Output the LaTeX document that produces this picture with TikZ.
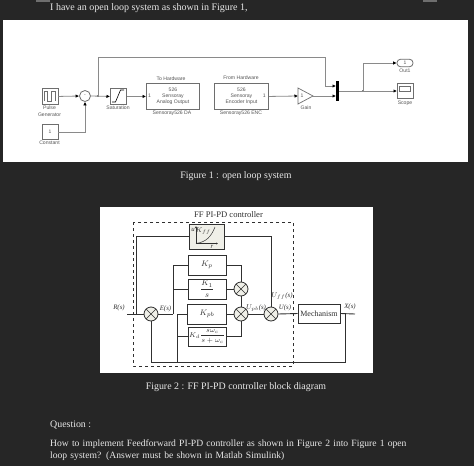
\documentclass[tikz,border=0pt]{standalone}
\usepackage{fontspec}
\setmainfont{Liberation Serif}
\setsansfont{Liberation Sans}
\usepackage{xcolor}
\definecolor{pageDark}{HTML}{262626}
\definecolor{pageText}{HTML}{E8E8E8}
\definecolor{simWire}{HTML}{8A8A8A}
\definecolor{simBlock}{HTML}{6E6E6E}
\definecolor{simText}{HTML}{555555}
\definecolor{ffInk}{HTML}{303030}
\definecolor{ffFill}{HTML}{EFEFE8}
\usetikzlibrary{arrows.meta}
\tikzset{
  pagetext/.style={text=pageText, font=\fontsize{9.9}{11}\selectfont, inner sep=0pt},
  simblock/.style={draw=simBlock, line width=0.9pt, fill=white, inner sep=0pt, anchor=north west},
  simlabel/.style={text=simText, font=\sffamily\fontsize{5.1}{6.2}\selectfont, align=center, inner sep=0pt},
  simwire/.style={draw=simWire, line width=0.8pt, -{Latex[black,length=3.5pt,width=3.5pt]}},
  simline/.style={draw=simWire, line width=0.8pt},
  simdot/.style={circle, fill=black, inner sep=0pt, minimum size=1.6pt},
  ffblock/.style={draw=ffInk, line width=0.9pt, fill=white, inner sep=0pt, text=ffInk, font=\fontsize{8}{9}\selectfont},
  ffsum/.style={circle, draw=ffInk, line width=0.8pt, fill=ffFill, minimum size=14pt, inner sep=0pt,
    path picture={
      \draw[ffInk, line width=0.6pt] (path picture bounding box.north west) -- (path picture bounding box.south east);
      \draw[ffInk, line width=0.6pt] (path picture bounding box.north east) -- (path picture bounding box.south west);
    }},
  ffwire/.style={draw=ffInk, line width=0.9pt},
  fflabel/.style={text=ffInk, font=\fontsize{6.8}{8}\selectfont\itshape, inner sep=0pt},
}
\begin{document}
\begin{tikzpicture}[x=1pt, y=-1pt]
  \fill[pageDark] (0,0) rectangle (474,466);
  \useasboundingbox (0,0) rectangle (474,466);
  \fill[simBlock] (36,0) rectangle (50,2);
  \fill[simBlock] (423,0) rectangle (437,2);
  \node[pagetext, anchor=west, font=\fontsize{10}{11}\selectfont] (intro) at (50,8) {I have an open loop system as shown in Figure 1,};

  \fill[white] (3,20) rectangle (468,162);
  \node[simblock, minimum width=16pt, minimum height=16pt] (pulse) at (41.5,88) {};
  \draw[simBlock, line width=0.7pt] (44,101) -- (44,91) -- (47.5,91) -- (47.5,101) -- (51,101) -- (51,91) -- (55,91) -- (55,101);
  \node[simlabel] (pulselabel) at (49.5,111.5) {Pulse\\[0.8pt]Generator};
  \node[simblock, minimum width=16pt, minimum height=15pt, text=simText, font=\sffamily\fontsize{5}{6}\selectfont] (const) at (41.5,124) {1};
  \node[simlabel] (constlabel) at (49.5,143) {Constant};
  \node[circle, draw=simBlock, line width=0.8pt, minimum size=11pt, inner sep=0pt, fill=white, text=simText, font=\fontsize{5}{5}\selectfont] (sum) at (85,96) {-};
  \node[simblock, minimum width=16pt, minimum height=16pt] (sat) at (110,88) {};
  \draw[black, line width=0.6pt] (112,102) -- (115.5,102) -- (120.5,90) -- (124,90);
  \node[simlabel] (satlabel) at (118,108) {Saturation};
  \node[simblock, minimum width=53pt, minimum height=26pt, text=simText, font=\sffamily\fontsize{5.1}{6.2}\selectfont, align=center] (da) at (146,83) {526\\Sensoray\\Analog Output};
  \node[simlabel, anchor=west] (daport) at (148,96) {1};
  \node[simlabel] (datop) at (171,78.5) {To Hardware};
  \node[simlabel] (dabot) at (172,113) {Sensoray526 DA};
  \node[simblock, minimum width=54pt, minimum height=26pt, text=simText, font=\sffamily\fontsize{5.1}{6.2}\selectfont, align=center] (enc) at (214,83) {526\\Sensoray\\Encoder Input};
  \node[simlabel, anchor=east] (encport) at (266,96) {1};
  \node[simlabel] (enctop) at (241,78) {From Hardware};
  \node[simlabel] (encbot) at (241,113.5) {Sensoray526 ENC};
  \coordinate (gainin) at (298,96);
  \coordinate (gainout) at (313,96);
  \draw[simBlock, line width=0.7pt] (298,88) -- (gainout) -- (298,104) -- cycle;
  \node[simlabel] (gainport) at (302,96) {1};
  \node[simlabel] (gainlabel) at (306,108) {Gain};
  \node[fill=black, inner sep=0pt, minimum width=3pt, minimum height=20pt, anchor=north west] (mux) at (336,81) {};
  \node[draw=simBlock, line width=0.8pt, fill=white, rounded corners=3.5pt, minimum width=16pt, minimum height=7.5pt, inner sep=0pt, text=simText, font=\sffamily\fontsize{5}{5}\selectfont] (out) at (405,63) {1};
  \node[simlabel] (outlabel) at (405,71) {Out1};
  \node[simblock, minimum width=16pt, minimum height=14.5pt] (scope) at (397,83) {};
  \draw[simBlock, fill=white, line width=0.6pt] (399.5,86) rectangle (410.5,91);
  \node[simlabel] (scopelabel) at (405,103.5) {Scope};
  \coordinate (branch) at (98,96);
  \coordinate (split) at (363,91);
  \node[simdot] (branchdot) at (branch) {};
  \node[simdot] (splitdot) at (split) {};
  \draw[simwire] (pulse.east) -- (sum.west);
  \draw[simwire] (const.east) -| (sum.south);
  \draw[simwire] (sum.east) -- (sat.west);
  \draw[simwire] (sat.east) -- (da.west);
  \draw[simwire] (branch) |- (325,57) |- (mux.west |- 0,86);
  \draw[simwire] (enc.east) -- (gainin);
  \draw[simwire] (gainout) -- (mux.west |- 0,96);
  \draw[simline] (mux.east |- split) -- (split);
  \draw[simwire] (split) -- (scope.west |- split);
  \draw[simwire] (split) |- (out.west);

  \node[pagetext, anchor=center] (cap1) at (236,176) {Figure 1 : open loop system};

  \fill[white] (100,207) rectangle (373,373);
  \draw[ffInk, line width=1pt, dashed] (133,222) rectangle (293,366);
  \node[text=ffInk, font=\fontsize{8.6}{10}\selectfont, inner sep=0pt] (fftitle) at (228.5,215) {FF PI-PD controller};
  \node[ffblock, fill=ffFill, minimum width=35pt, minimum height=25pt] (kff) at (206.5,236.5) {};
  \draw[ffInk, line width=0.5pt, -{Latex[length=2pt,width=2pt]}] (196,243.5) -- (196,226);
  \draw[ffInk, line width=0.5pt, -{Latex[length=2pt,width=2pt]}] (196,243.5) -- (218,243.5);
  \draw[ffInk, line width=0.5pt] (196,243.5) .. controls (206,242) and (211,237) .. (215,227);
  \node[fflabel] (kffu) at (193,230) {u};
  \node[fflabel] (kffk) at (203,231) {$K_{ff}$};
  \node[fflabel] (kffr) at (212,246.5) {r};
  \node[ffblock, minimum width=38pt, minimum height=20pt] (kp) at (207,265) {$K_p$};
  \node[ffblock, minimum width=38pt, minimum height=20pt] (ki) at (207,289) {$\displaystyle\frac{K_1}{s}$};
  \node[ffblock, minimum width=39pt, minimum height=20pt] (kpb) at (207,314) {$K_{pb}$};
  \node[ffblock, minimum width=38pt, minimum height=19pt, font=\fontsize{7}{8}\selectfont] (kd) at (207,336.5) {$K_d\displaystyle\frac{s\omega_c}{s+\omega_c}$};
  \node[ffsum] (sume) at (151,314) {};
  \node[ffsum] (sumi) at (241,289) {};
  \node[ffsum] (sumb) at (241,314) {};
  \node[ffsum] (sumu) at (271,314) {};
  \node[ffblock, minimum width=42pt, minimum height=19pt] (mech) at (319,313.5) {Mechanism};
  \coordinate (rin) at (127,314);
  \coordinate (rtap) at (136,314);
  \coordinate (etap) at (173,314);
  \coordinate (fbtap) at (177,362);
  \coordinate (xtap) at (345,314);
  \coordinate (xout) at (355,314);
  \draw[ffwire] (rin) -- (sume.west);
  \draw[ffwire] (rtap) |- (kff.west);
  \draw[ffwire] (kff.east) -| (sumu.north);
  \draw[ffwire] (sume.east) -- (etap);
  \draw[ffwire] (etap) |- (kp.west);
  \draw[ffwire] (etap |- ki.west) -- (ki.west);
  \draw[ffwire] (kp.east) -| (sumi.north);
  \draw[ffwire] (ki.east) -- (sumi.west);
  \draw[ffwire] (sumi.south) -- (sumb.north);
  \draw[ffwire] (fbtap) |- (kpb.west);
  \draw[ffwire] (fbtap |- kd.west) -- (kd.west);
  \draw[ffwire] (kpb.east) -- (sumb.west);
  \draw[ffwire] (kd.east) -| (sumb.south);
  \draw[ffwire] (sumb.east) -- (sumu.west);
  \draw[ffwire] (sumu.east) -- (mech.west);
  \draw[ffwire] (mech.east) -- (xout);
  \draw[ffwire] (xtap) |- (151,362) -- (sume.south);
  \node[fflabel] (rlabel) at (119,308) {R(s)};
  \node[fflabel] (elabel) at (165.5,309) {E(s)};
  \node[fflabel] (upb) at (256,308.5) {$U_{pb}$(s)};
  \node[fflabel] (uff) at (282,296) {$U_{ff}$(s)};
  \node[fflabel] (ulabel) at (285,308) {U(s)};
  \node[fflabel] (xlabel) at (350,307) {X(s)};

  \node[pagetext, anchor=center] (cap2) at (236,387) {Figure 2 : FF PI-PD controller block diagram};
  \node[pagetext, anchor=west] (question) at (50,425) {Question :};
  \node[pagetext, anchor=north west, align=left, text width=380pt, font=\fontsize{9.6}{11}\selectfont] (howto) at (50,439.5) {How to implement Feedforward PI-PD controller as shown in Figure 2 into Figure 1 open\\[1.5pt]loop system? (Answer must be shown in Matlab Simulink)};
\end{tikzpicture}
\end{document}
